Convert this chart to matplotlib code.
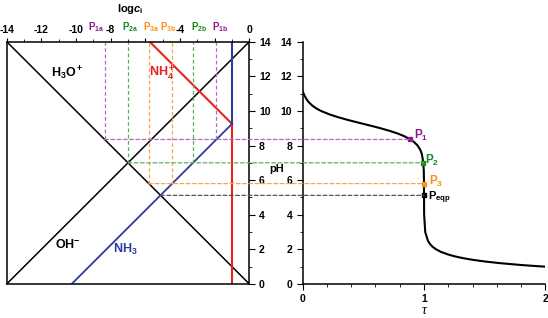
import numpy as np
import matplotlib
matplotlib.use("Agg")
import matplotlib.pyplot as plt
from matplotlib.patches import ConnectionPatch

plt.rcParams['font.family'] = ['Liberation Sans', 'DejaVu Sans']
plt.rcParams['font.weight'] = 'bold'
plt.rcParams['mathtext.fontset'] = 'custom'
plt.rcParams['mathtext.rm'] = 'Liberation Sans:bold'
plt.rcParams['mathtext.it'] = 'Liberation Sans:italic:bold'
plt.rcParams['mathtext.bf'] = 'Liberation Sans:bold'

# left panel: log c_i vs pH for 0.1 M NH3 (pKa 9.25)
h3o_logc = [-14, 0]
h3o_ph = [14, 0]
oh_logc = [-14, 0]
oh_ph = [0, 14]
nh3_logc = [-10.25, -1, -1]
nh3_ph = [0, 9.25, 14]
nh4_logc = [-1, -1, -5.75]
nh4_ph = [0, 9.25, 14]

top_ticks = [-14, -12, -10, -8, -6, -4, -2, 0]
top_labels = ['-14', '-12', '-10', '-8', '', '-4', '', '0']

# marked points
pt_names = ['1', '2', '3']
pt_ph = [8.35, 7.0, 5.8]
pt_a = [-8.35, -7.0, -5.8]
pt_b = [-1.9, -3.25, -4.45]
pt_tau = [0.888, 0.9944, 0.9995]
eqp_ph = 5.12
eqp_logc = -5.12
eqp_tau = 1.0

# titration curve
tau = [0, 0.0075, 0.0139, 0.021, 0.0338, 0.05, 0.08, 0.1105, 0.15, 0.22, 0.2847,
       0.36, 0.4145, 0.5, 0.5855, 0.64, 0.7153, 0.78, 0.8337, 0.888, 0.918, 0.947,
       0.9693, 0.9825, 0.9944, 0.9982, 0.9995, 1.0, 1.001, 1.01, 1.032, 1.05,
       1.0708, 1.1, 1.141, 1.2, 1.251, 1.316, 1.398, 1.5, 1.631, 1.794, 1.891, 2.0]
ph = [11.12, 11.0, 10.9, 10.8, 10.65, 10.5, 10.3, 10.15, 10.0, 9.8, 9.65,
      9.5, 9.4, 9.25, 9.1, 9.0, 8.85, 8.7, 8.55, 8.35, 8.2, 8.0,
      7.75, 7.5, 7.0, 6.5, 6.0, 5.12, 4.0, 3.0, 2.5, 2.3,
      2.15, 2.0, 1.85, 1.7, 1.6, 1.5, 1.4, 1.3, 1.2, 1.1, 1.05, 1.0]

col_pt = ['#8b1a8b', '#1a8a1a', '#ff8c1a']
col_dash = ['#b36bc0', '#5fae5f', '#ffa04d']
red = '#e8231e'
blue = '#2a3c9c'

# where the P-labels sit above the top axis (centre, in log c units)
lab_a = [-8.85, -6.85, -5.67]
lab_b = [-1.69, -2.9, -4.68]

fig = plt.figure(figsize=(5.48, 3.18), dpi=100)
ax1 = fig.add_axes([0.0122, 0.107, 0.4428, 0.762])
ax2 = fig.add_axes([0.5524, 0.107, 0.4427, 0.762])

ax1.plot(h3o_logc, h3o_ph, color='black', lw=1.1)
ax1.plot(oh_logc, oh_ph, color='black', lw=1.1)
ax1.plot(nh3_logc[:2], nh3_ph[:2], color=blue, lw=1.3)
ax1.plot(nh4_logc[:2], nh4_ph[:2], color=red, lw=1.5)
ax1.plot(nh4_logc[1:], nh4_ph[1:], color=red, lw=1.5)
ax1.plot(nh3_logc[1:], nh3_ph[1:], color=blue, lw=1.5)

ax1.set_xlim(-14, 0)
ax1.set_ylim(0, 14)
ax1.xaxis.tick_top()
ax1.set_xticks(top_ticks)
ax1.set_xticklabels(top_labels)
ax1.set_xticks(np.arange(-14, 1, 1), minor=True)
ax1.tick_params(axis='x', which='both', direction='out', top=True, bottom=False,
                labelsize=7.5, pad=2)
ax1.tick_params(axis='x', which='major', length=3)
ax1.tick_params(axis='x', which='minor', length=2)
ax1.yaxis.tick_right()
ax1.set_yticks(range(0, 15, 2))
ax1.set_yticks(range(1, 15, 2), minor=True)
ax1.tick_params(axis='y', which='both', direction='out', right=True, left=False,
                labelsize=7.5, pad=3)
ax1.tick_params(axis='y', which='major', length=4)
ax1.tick_params(axis='y', which='minor', length=2.5)
for s in ax1.spines.values():
    s.set_linewidth(1.1)

ax1.text(-10.5, 12.2, 'H$_3$O$^+$', fontsize=9, ha='center', va='center')
ax1.text(-10.5, 2.25, 'OH$^{-}$', fontsize=9, ha='center', va='center')
ax1.text(-5.05, 12.2, 'NH$_4^+$', fontsize=9, ha='center', va='center', color=red)
ax1.text(-7.15, 2.0, 'NH$_3$', fontsize=9, ha='center', va='center', color=blue)

for i in range(3):
    for x, lx, suf in ((pt_a[i], lab_a[i], 'a'), (pt_b[i], lab_b[i], 'b')):
        ax1.plot([x, x], [pt_ph[i], 14], color=col_dash[i], lw=0.9, ls=(0, (3, 2)))
        ax1.text(lx, 14.45, 'P$_{\\mathrm{' + pt_names[i] + suf + '}}$',
                 fontsize=7, color=col_pt[i], ha='center', va='bottom', clip_on=False)
    con = ConnectionPatch(xyA=(pt_a[i], pt_ph[i]), coordsA=ax1.transData,
                          xyB=(pt_tau[i], pt_ph[i]), coordsB=ax2.transData,
                          color=col_dash[i], lw=0.9, ls=(0, (3, 2)))
    fig.add_artist(con)
con = ConnectionPatch(xyA=(eqp_logc, eqp_ph), coordsA=ax1.transData,
                      xyB=(eqp_tau, eqp_ph), coordsB=ax2.transData,
                      color='#555555', lw=0.9, ls=(0, (3, 2)))
fig.add_artist(con)

fig.text(0.237, 0.972, 'log$c_{\\mathrm{i}}$', fontsize=8, ha='center', va='center')
fig.text(0.5055, 0.468, 'pH', fontsize=8, ha='center', va='center')

# right panel
ax2.plot(tau, ph, color='black', lw=1.5, zorder=3)
ax2.set_xlim(0, 2)
ax2.set_ylim(0, 14)
ax2.set_xticks([0, 1, 2])
ax2.set_xticks(np.arange(0, 2.01, 0.2), minor=True)
ax2.set_yticks(range(0, 15, 2))
ax2.set_yticks(range(1, 15, 2), minor=True)
ax2.tick_params(axis='both', which='both', direction='out', labelsize=7.5)
ax2.tick_params(axis='both', which='major', length=4)
ax2.tick_params(axis='both', which='minor', length=2.5)
ax2.spines['top'].set_visible(False)
ax2.spines['right'].set_visible(False)
for s in ('left', 'bottom'):
    ax2.spines[s].set_linewidth(1.1)

for i in range(3):
    ax2.plot(pt_tau[i], pt_ph[i], 's', color=col_pt[i], ms=3.5, zorder=4)
ax2.plot(eqp_tau, eqp_ph, 's', color='black', ms=3.5, zorder=4)
ax2.text(0.92, 8.6, 'P$_{\\mathrm{1}}$', fontsize=8.5, color=col_pt[0], ha='left', va='center')
ax2.text(1.01, 7.15, 'P$_{\\mathrm{2}}$', fontsize=8.5, color=col_pt[1], ha='left', va='center')
ax2.text(1.04, 5.95, 'P$_{\\mathrm{3}}$', fontsize=8.5, color=col_pt[2], ha='left', va='center')
ax2.text(1.03, 4.95, 'P$_{\\mathrm{eqp}}$', fontsize=8, color='black', ha='left', va='center')

fig.text(424 / 548, 1 - 310 / 318, '\u03c4', fontsize=10, ha='center', va='center',
         family='Liberation Serif', style='italic', weight='normal')

fig.savefig('out.png', dpi=100)
